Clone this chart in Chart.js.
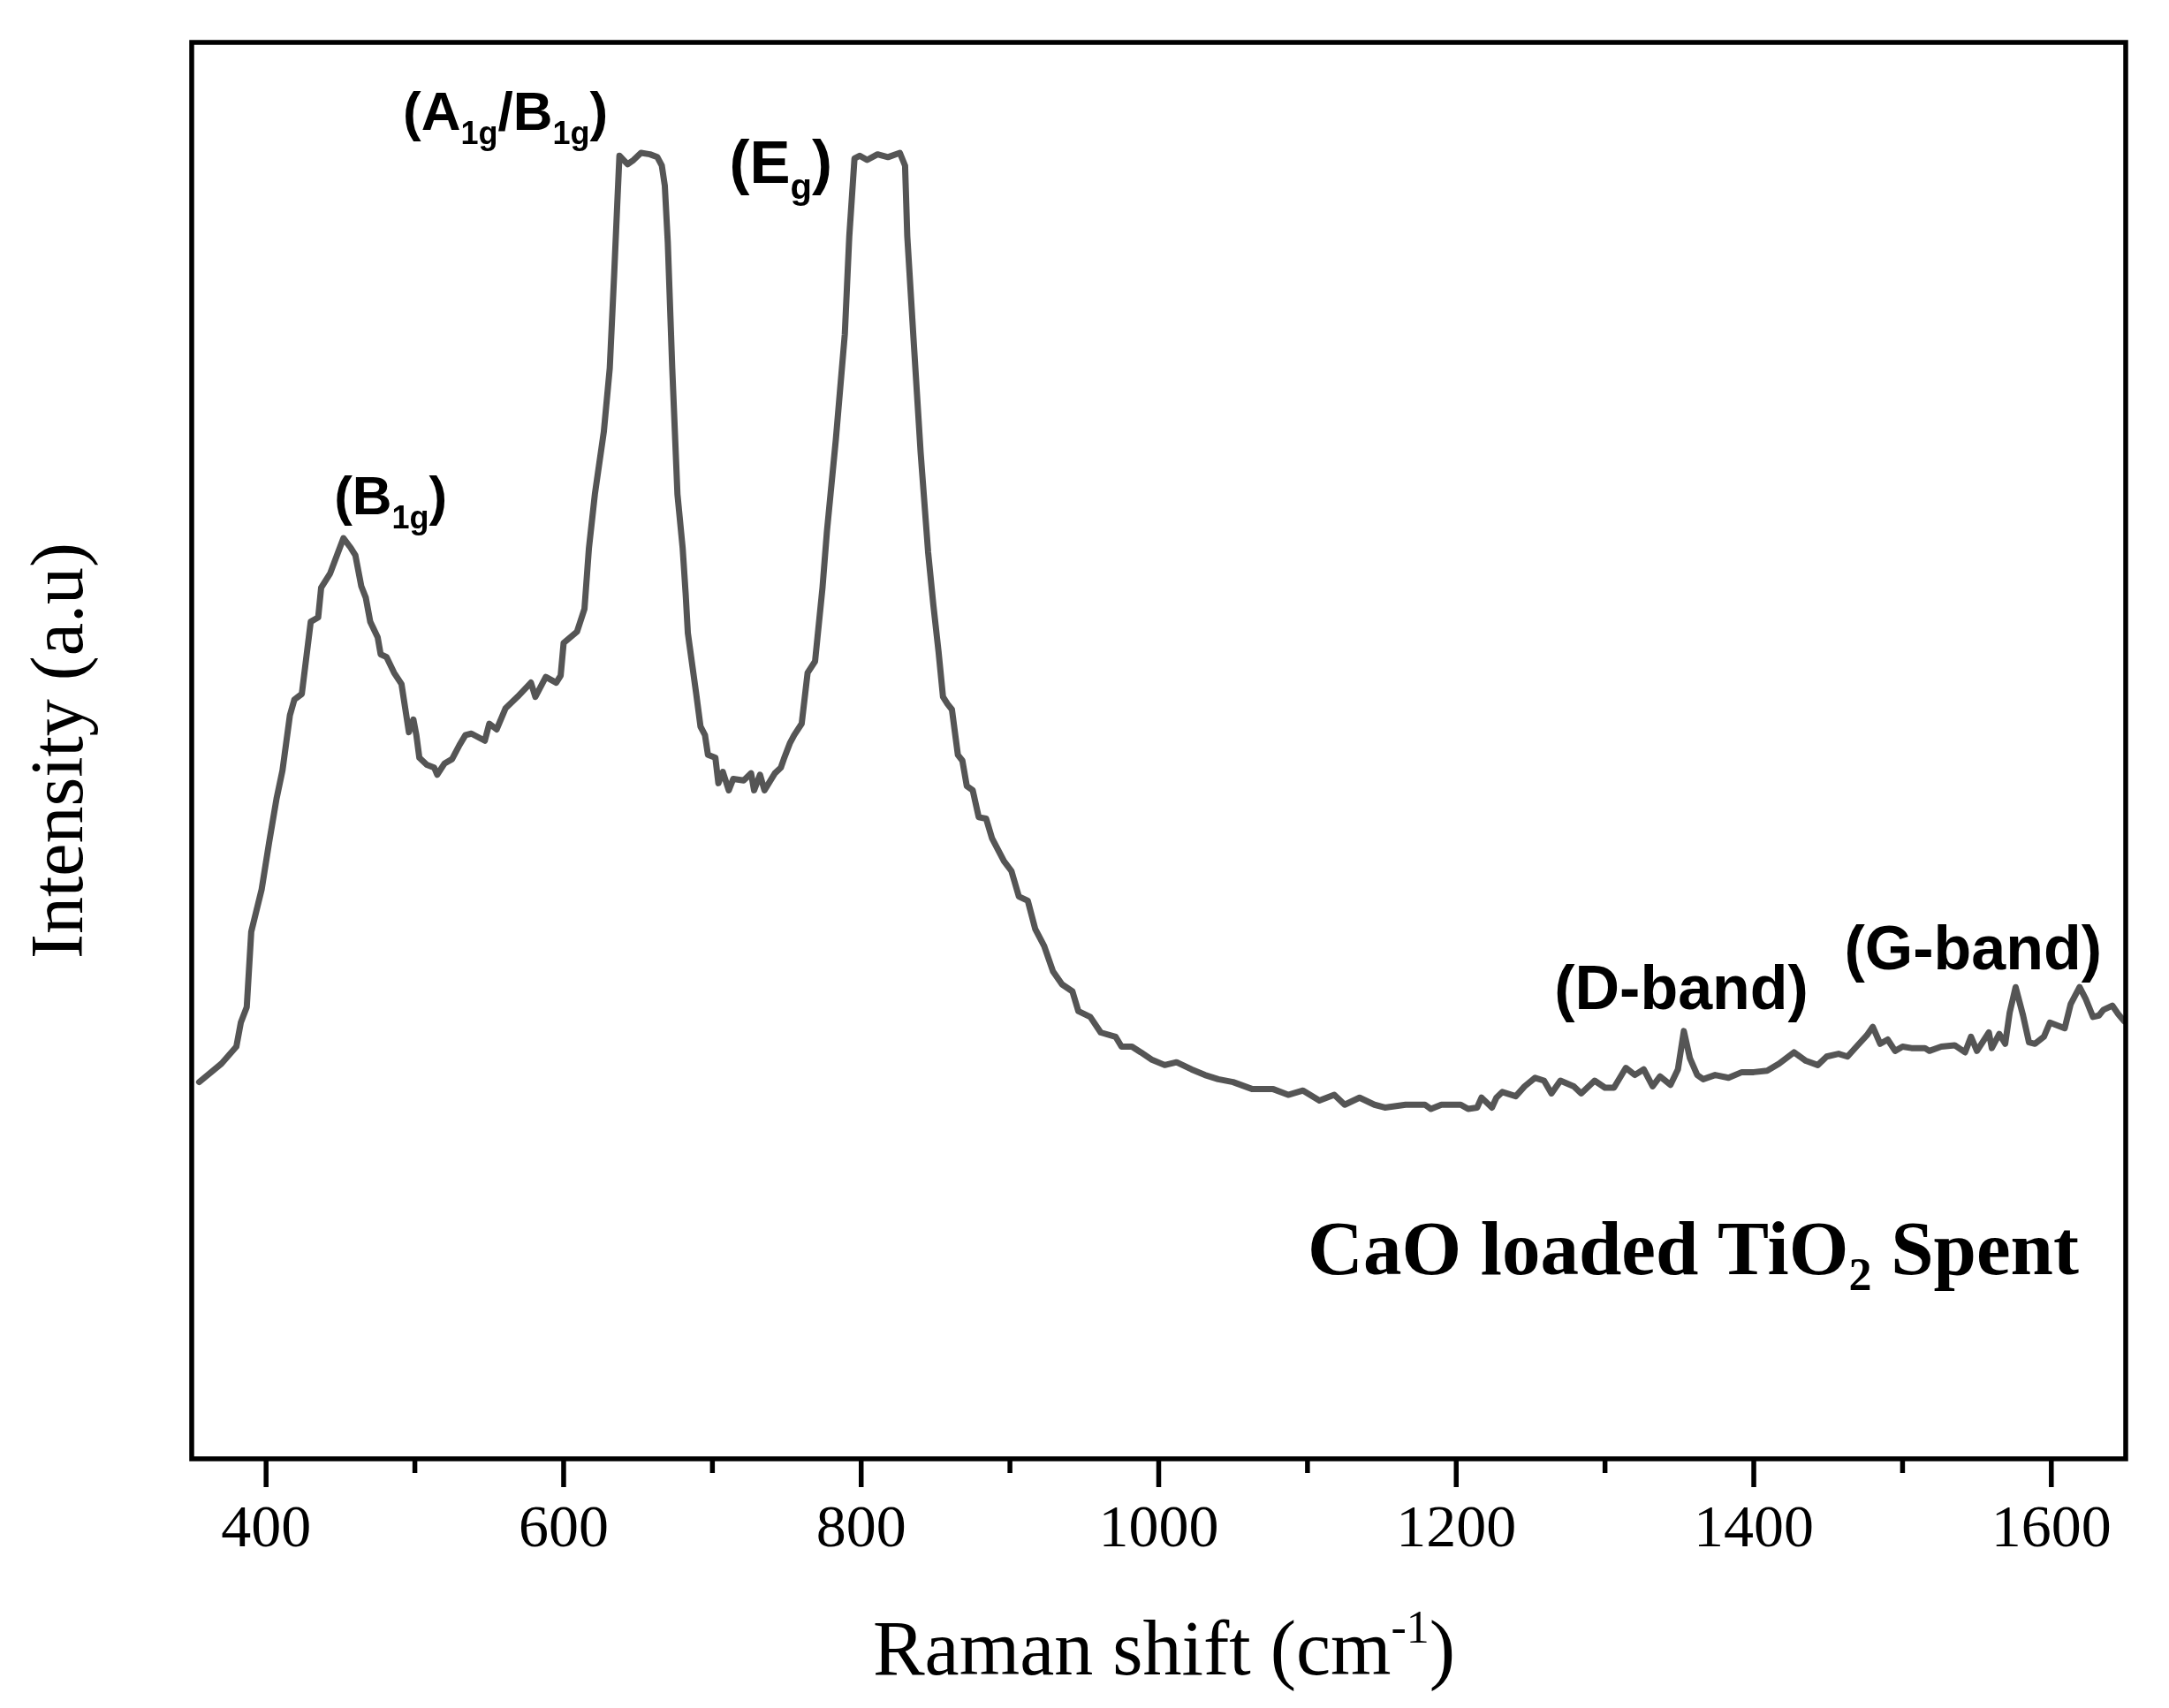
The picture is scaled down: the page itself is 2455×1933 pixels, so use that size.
<!DOCTYPE html>
<html>
<head>
<meta charset="utf-8">
<script src="https://cdn.jsdelivr.net/npm/chart.js@4.4.0/dist/chart.umd.min.js"></script>
<style>
html, body { margin: 0; padding: 0; background: #ffffff; }
#wrap { width: 2455px; height: 1933px; }
</style>
</head>
<body>
<div id="wrap"><canvas id="ramanChart" width="2455" height="1933"></canvas></div>
<script>
// spectrum (Raman shift in cm-1, intensity in arbitrary units 0-100)
var ramanShift = [355, 370, 380, 383, 387, 390, 397, 402, 407, 411, 416, 419, 424, 430, 435, 437, 443, 448, 452, 457,
    460, 464, 467, 470, 475, 477, 481, 486, 491, 496, 499, 501, 503, 508, 513, 515, 520, 525, 530, 534,
    538, 547, 550, 555, 561, 569, 578, 581, 588, 595, 598, 600, 609, 614, 617, 621, 627, 631, 634, 636,
    637.5, 643, 647, 652, 658, 663, 666, 668, 670, 673, 676.5, 680, 682, 683.5, 689, 692, 695, 697, 702, 704,
    707, 711, 714, 721, 726, 728, 732, 735, 742, 746, 748, 752, 755, 760, 764, 769, 774, 777, 783, 789,
    792, 795.5, 799, 804, 811, 818, 826, 829.5, 831, 835, 840, 845, 848.5, 852, 855, 858, 861, 865, 868, 871,
    875, 879, 884, 888, 896, 901, 906, 912, 917, 923, 929, 935, 942, 946, 954, 961, 971, 975, 982, 988,
    995, 1004, 1012, 1022, 1031, 1040, 1050, 1063, 1077, 1087, 1097, 1108, 1118, 1125, 1135, 1145, 1152, 1166, 1179, 1183,
    1190, 1203, 1208, 1214, 1217, 1224, 1227, 1231, 1240, 1246, 1253, 1259, 1264, 1270, 1279, 1284, 1293, 1300, 1306, 1314,
    1320, 1326, 1332, 1337, 1344, 1349, 1353, 1357, 1362, 1366, 1374, 1383, 1392, 1400, 1409, 1417, 1427, 1435, 1443, 1449,
    1457, 1463, 1469, 1476, 1480, 1485, 1490, 1495, 1500, 1506, 1515, 1518, 1526, 1535, 1542, 1546, 1550, 1558, 1560, 1565,
    1569, 1572, 1576, 1581, 1585, 1589, 1595, 1599, 1604, 1609, 1613, 1619, 1623, 1628, 1632, 1635, 1641, 1645, 1649];
var intensity = [26.6, 27.9, 29.1, 30.8, 31.9, 37.2, 40.2, 43.5, 46.6, 48.6, 52.5, 53.6, 54.0, 59.1, 59.4, 61.5, 62.5, 63.9, 65.0, 64.3,
    63.8, 61.6, 60.8, 59.1, 58.0, 56.8, 56.6, 55.5, 54.7, 51.3, 52.2, 51.1, 49.5, 49.0, 48.8, 48.3, 49.1, 49.4, 50.4, 51.1,
    51.2, 50.7, 51.9, 51.5, 53.0, 53.8, 54.8, 53.8, 55.2, 54.8, 55.3, 57.6, 58.4, 60.0, 64.3, 68.1, 72.5, 77.0, 83.7, 88.5,
    92.0, 91.4, 91.7, 92.2, 92.1, 91.9, 91.3, 89.9, 85.9, 77.0, 68.1, 64.3, 61.1, 58.3, 54.1, 51.7, 51.1, 49.7, 49.5, 47.7,
    48.5, 47.2, 48.0, 47.9, 48.4, 47.2, 48.3, 47.2, 48.4, 48.8, 49.4, 50.5, 51.1, 51.9, 55.5, 56.3, 61.5, 65.5, 72.0, 79.4,
    86.3, 91.8, 92.0, 91.7, 92.1, 91.9, 92.2, 91.3, 86.3, 79.4, 71.0, 64.0, 60.3, 57.0, 53.8, 53.3, 52.9, 49.7, 49.3, 47.5,
    47.2, 45.3, 45.2, 43.8, 42.2, 41.5, 39.7, 39.4, 37.4, 36.2, 34.4, 33.5, 33.0, 31.6, 31.2, 30.1, 29.8, 29.1, 29.1, 28.7,
    28.2, 27.8, 28.0, 27.5, 27.1, 26.8, 26.6, 26.1, 26.1, 25.7, 26.0, 25.3, 25.7, 25.0, 25.5, 25.0, 24.8, 25.0, 25.0, 24.7,
    25.0, 25.0, 24.7, 24.8, 25.5, 24.8, 25.5, 25.9, 25.6, 26.3, 26.9, 26.7, 25.8, 26.7, 26.3, 25.8, 26.7, 26.2, 26.2, 27.6,
    27.1, 27.5, 26.3, 27.0, 26.4, 27.5, 30.2, 28.3, 27.1, 26.8, 27.1, 26.9, 27.3, 27.3, 27.4, 27.9, 28.7, 28.1, 27.8, 28.4,
    28.6, 28.4, 29.1, 29.9, 30.5, 29.3, 29.6, 28.8, 29.1, 29.0, 29.0, 28.8, 29.1, 29.2, 28.7, 29.8, 28.8, 30.1, 29.0, 30.0,
    29.3, 31.5, 33.3, 31.3, 29.4, 29.3, 29.8, 30.8, 30.6, 30.4, 32.1, 33.3, 32.5, 31.2, 31.3, 31.7, 32.0, 31.4, 30.9];

var majorTicks = [400, 600, 800, 1000, 1200, 1400, 1600];
var minorTicks = [500, 700, 900, 1100, 1300, 1500];

// peak names, split in plain / subscript pieces
var peakNames = [
    [['(B'], ['1g', 'sub'], [')']],
    [['(A'], ['1g', 'sub'], ['/B'], ['1g', 'sub'], [')']],
    [['(E'], ['g', 'sub'], [')']],
    [['(D-band)']],
    [['(G-band)']]
];
var sampleName = [['CaO loaded TiO'], ['2', 'sub'], [' Spent']];

var serif = "'Liberation Serif', 'Times New Roman', serif";
var sans = "'Liberation Sans', Arial, sans-serif";

// where each name sits (left edge, baseline) in data units, and its size
var peakPlaces = [
    { x: 445.7, y: 66.7, size: 62, sub: 36, shift: 16 },
    { x: 492.0, y: 93.8, size: 62, sub: 36, shift: 16 },
    { x: 711.4, y: 90.1, size: 69, sub: 40, shift: 18 },
    { x: 1265.9, y: 31.75, size: 70, sub: 40, shift: 18 },
    { x: 1460.8, y: 34.56, size: 70, sub: 40, shift: 18 }
];

function drawPieces(ctx, pieces, x, y, family, weight, size, subSize, shift, align) {
    var total = 0;
    pieces.forEach(function (p) {
        ctx.font = weight + ' ' + (p[1] ? subSize : size) + 'px ' + family;
        total += ctx.measureText(p[0]).width;
    });
    var cx = align === 'center' ? x - total / 2 : x;
    pieces.forEach(function (p) {
        ctx.font = weight + ' ' + (p[1] ? subSize : size) + 'px ' + family;
        var dy = p[1] === 'sub' ? shift : (p[1] === 'sup' ? -shift : 0);
        ctx.fillText(p[0], cx, y + dy);
        cx += ctx.measureText(p[0]).width;
    });
}

var framePlugin = {
    id: 'frame',
    afterDraw: function (chart) {
        var ctx = chart.ctx;
        var area = chart.chartArea;
        var xs = chart.scales.x;
        var ys = chart.scales.y;
        ctx.save();
        ctx.strokeStyle = '#000000';
        ctx.lineWidth = 5.5;
        ctx.lineCap = 'butt';
        ctx.strokeRect(area.left, area.top, area.right - area.left, area.bottom - area.top);
        majorTicks.forEach(function (v) {
            var px = xs.getPixelForValue(v);
            ctx.beginPath(); ctx.moveTo(px, area.bottom); ctx.lineTo(px, area.bottom + 32); ctx.stroke();
        });
        minorTicks.forEach(function (v) {
            var px = xs.getPixelForValue(v);
            ctx.beginPath(); ctx.moveTo(px, area.bottom); ctx.lineTo(px, area.bottom + 16); ctx.stroke();
        });

        ctx.fillStyle = '#000000';
        ctx.textBaseline = 'alphabetic';
        ctx.textAlign = 'left';
        peakNames.forEach(function (name, i) {
            var p = peakPlaces[i];
            drawPieces(ctx, name, xs.getPixelForValue(p.x), ys.getPixelForValue(p.y), sans, 'bold', p.size, p.sub, p.shift, 'left');
        });
        drawPieces(ctx, sampleName, xs.getPixelForValue(1100.1), ys.getPixelForValue(13.04), serif, 'bold', 87, 52, 18, 'left');

        // x axis title with superscript
        var title = [['Raman shift (cm'], ['-1', 'sup'], [')']];
        drawPieces(ctx, title, (area.left + area.right) / 2 + 6, chart.height - 38, serif, 'normal', 88, 52, 36, 'center');
        ctx.restore();
    }
};

var points = ramanShift.map(function (v, i) { return { x: v, y: intensity[i] }; });

var chart = new Chart(document.getElementById('ramanChart'), {
    type: 'line',
    data: {
        datasets: [{
            label: 'CaO loaded TiO2 Spent',
            data: points,
            borderColor: '#555555',
            borderWidth: 7,
            pointRadius: 0,
            tension: 0,
            borderJoinStyle: 'round',
            borderCapStyle: 'round',
            fill: false
        }]
    },
    options: {
        responsive: false,
        devicePixelRatio: 1,
        animation: false,
        layout: { padding: { left: 0, right: 49, top: 48, bottom: 0 } },
        plugins: {
            legend: { display: false },
            tooltip: { enabled: false }
        },
        scales: {
            x: {
                type: 'linear',
                min: 350,
                max: 1650,
                grid: { display: false, drawTicks: false },
                border: { display: false },
                afterBuildTicks: function (scale) {
                    scale.ticks = majorTicks.map(function (v) { return { value: v }; });
                },
                afterFit: function (scale) { scale.height = 282; },
                ticks: {
                    color: '#000000',
                    padding: 40,
                    maxRotation: 0,
                    autoSkip: false,
                    font: { family: serif, size: 68 },
                    callback: function (v) { return String(v); }
                }
            },
            y: {
                min: 0,
                max: 100,
                grid: { display: false, drawTicks: false },
                border: { display: false },
                afterFit: function (scale) { scale.width = 217; },
                ticks: { display: false },
                title: {
                    display: true,
                    text: 'Intensity (a.u)',
                    color: '#000000',
                    padding: { top: 21, bottom: 0 },
                    font: { family: serif, size: 84 }
                }
            }
        }
    },
    plugins: [framePlugin]
});
</script>
</body>
</html>
